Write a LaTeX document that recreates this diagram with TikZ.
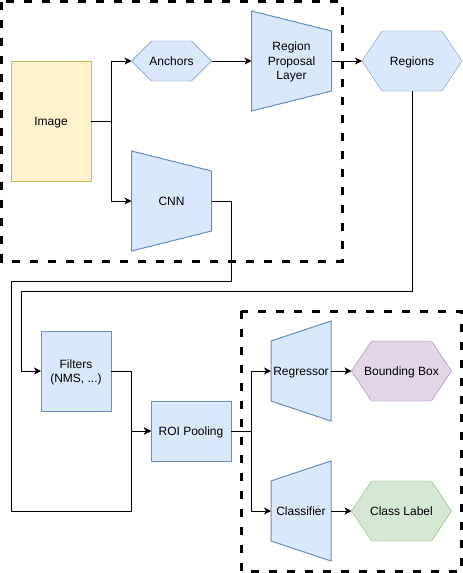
\documentclass[tikz,border=0pt]{standalone}
\usepackage{fontspec}
\setmainfont{Liberation Sans}
\usetikzlibrary{arrows.meta,backgrounds}

\definecolor{fblue}{HTML}{DAE8FC}
\definecolor{dblue}{HTML}{6C8EBF}
\definecolor{fyellow}{HTML}{FFF2CC}
\definecolor{dyellow}{HTML}{D6B656}
\definecolor{fpurple}{HTML}{E1D5E7}
\definecolor{dpurple}{HTML}{9673A6}
\definecolor{fgreen}{HTML}{D5E8D4}
\definecolor{dgreen}{HTML}{82B366}

\begin{document}
\begin{tikzpicture}[x=1pt, y=-1pt,
    every node/.style={font=\fontsize{12}{14.5}\selectfont, inner sep=0pt,
      outer sep=0pt, align=center, text depth=0pt},
    sz/.style 2 args={minimum width=#1, minimum height=#2},
    blk/.style={draw=dblue, fill=fblue, line width=1pt},
    arr/.style={line width=1pt, -{Stealth[length=7pt, width=7pt, inset=2pt]}},
    groupbox/.style={line width=3pt, dash pattern=on 8pt off 10pt}]

  \useasboundingbox (0,0) rectangle (463,573);

  % Proposal stage
  \node[sz={80pt}{120pt}, draw=dyellow, fill=fyellow, line width=1pt] (img) at (51,121) {Image};
  \node[sz={80pt}{40pt}] (anc) at (171.5,61) {Anchors};
  \node[sz={80pt}{100pt}] (rpl) at (291.5,61) {Region\\Proposal\\Layer};
  \node[sz={100pt}{60pt}] (reg) at (412,61) {Regions};
  \node[sz={80pt}{100pt}] (cnn) at (171.5,201) {CNN};

  % Detection stage
  \node[sz={70pt}{80pt}, blk] (flt) at (76,371) {Filters\\(NMS, ...)};
  \node[sz={80pt}{60pt}, blk] (roi) at (191,431) {ROI Pooling};
  \node[sz={60pt}{100pt}] (rgs) at (301,371) {Regressor};
  \node[sz={60pt}{100pt}] (cls) at (301,511) {Classifier};
  \node[sz={100pt}{60pt}] (bbox) at (401.5,371) {Bounding Box};
  \node[sz={100pt}{60pt}] (clab) at (401.5,511) {Class Label};

  % shapes behind the labels
  \begin{scope}[on background layer, line width=1pt]
    \foreach \n/\c in {anc/blue, reg/blue, bbox/purple, clab/green}
      \draw[draw=d\c, fill=f\c] (\n.west) -- ([xshift=20pt]\n.north west)
        -- ([xshift=-20pt]\n.north east) -- (\n.east)
        -- ([xshift=-20pt]\n.south east) -- ([xshift=20pt]\n.south west) -- cycle;
    \foreach \n in {rpl, cnn}
      \draw[blk] (\n.north west) -- ([yshift=-20pt]\n.north east)
        -- ([yshift=20pt]\n.south east) -- (\n.south west) -- cycle;
    \foreach \n in {rgs, cls}
      \draw[blk] ([yshift=-20pt]\n.north west) -- (\n.north east)
        -- (\n.south east) -- ([yshift=20pt]\n.south west) -- cycle;
  \end{scope}

  % connectors
  \draw[arr] (img.east) -- ++(20,0) coordinate (split1) |- (anc.west);
  \draw[arr] (split1) |- (cnn.west);
  \draw[arr] (anc.east) -- (rpl.west);
  \draw[arr] (rpl.east) -- (reg.west);
  \draw[arr] (cnn.east) -- ++(20,0) -- ++(0,80) -| ++(-220,230) -- ++(120,0) |- (roi.west);
  \draw[arr] (reg.south) -- ++(0,200) -| ([xshift=-20pt]flt.west) -- (flt.west);
  \draw[arr] (flt.east) -- ++(20,0) |- (roi.west);
  \draw[arr] (roi.east) -- ++(20,0) coordinate (split2) |- (rgs.west);
  \draw[arr] (split2) |- (cls.west);
  \draw[arr] (rgs.east) -- (bbox.west);
  \draw[arr] (cls.east) -- (clab.west);

  % group frames
  \draw[groupbox] (1.5,1.5) rectangle (342,261);
  \draw[groupbox] (241,311) rectangle (461.5,571);
\end{tikzpicture}
\end{document}
